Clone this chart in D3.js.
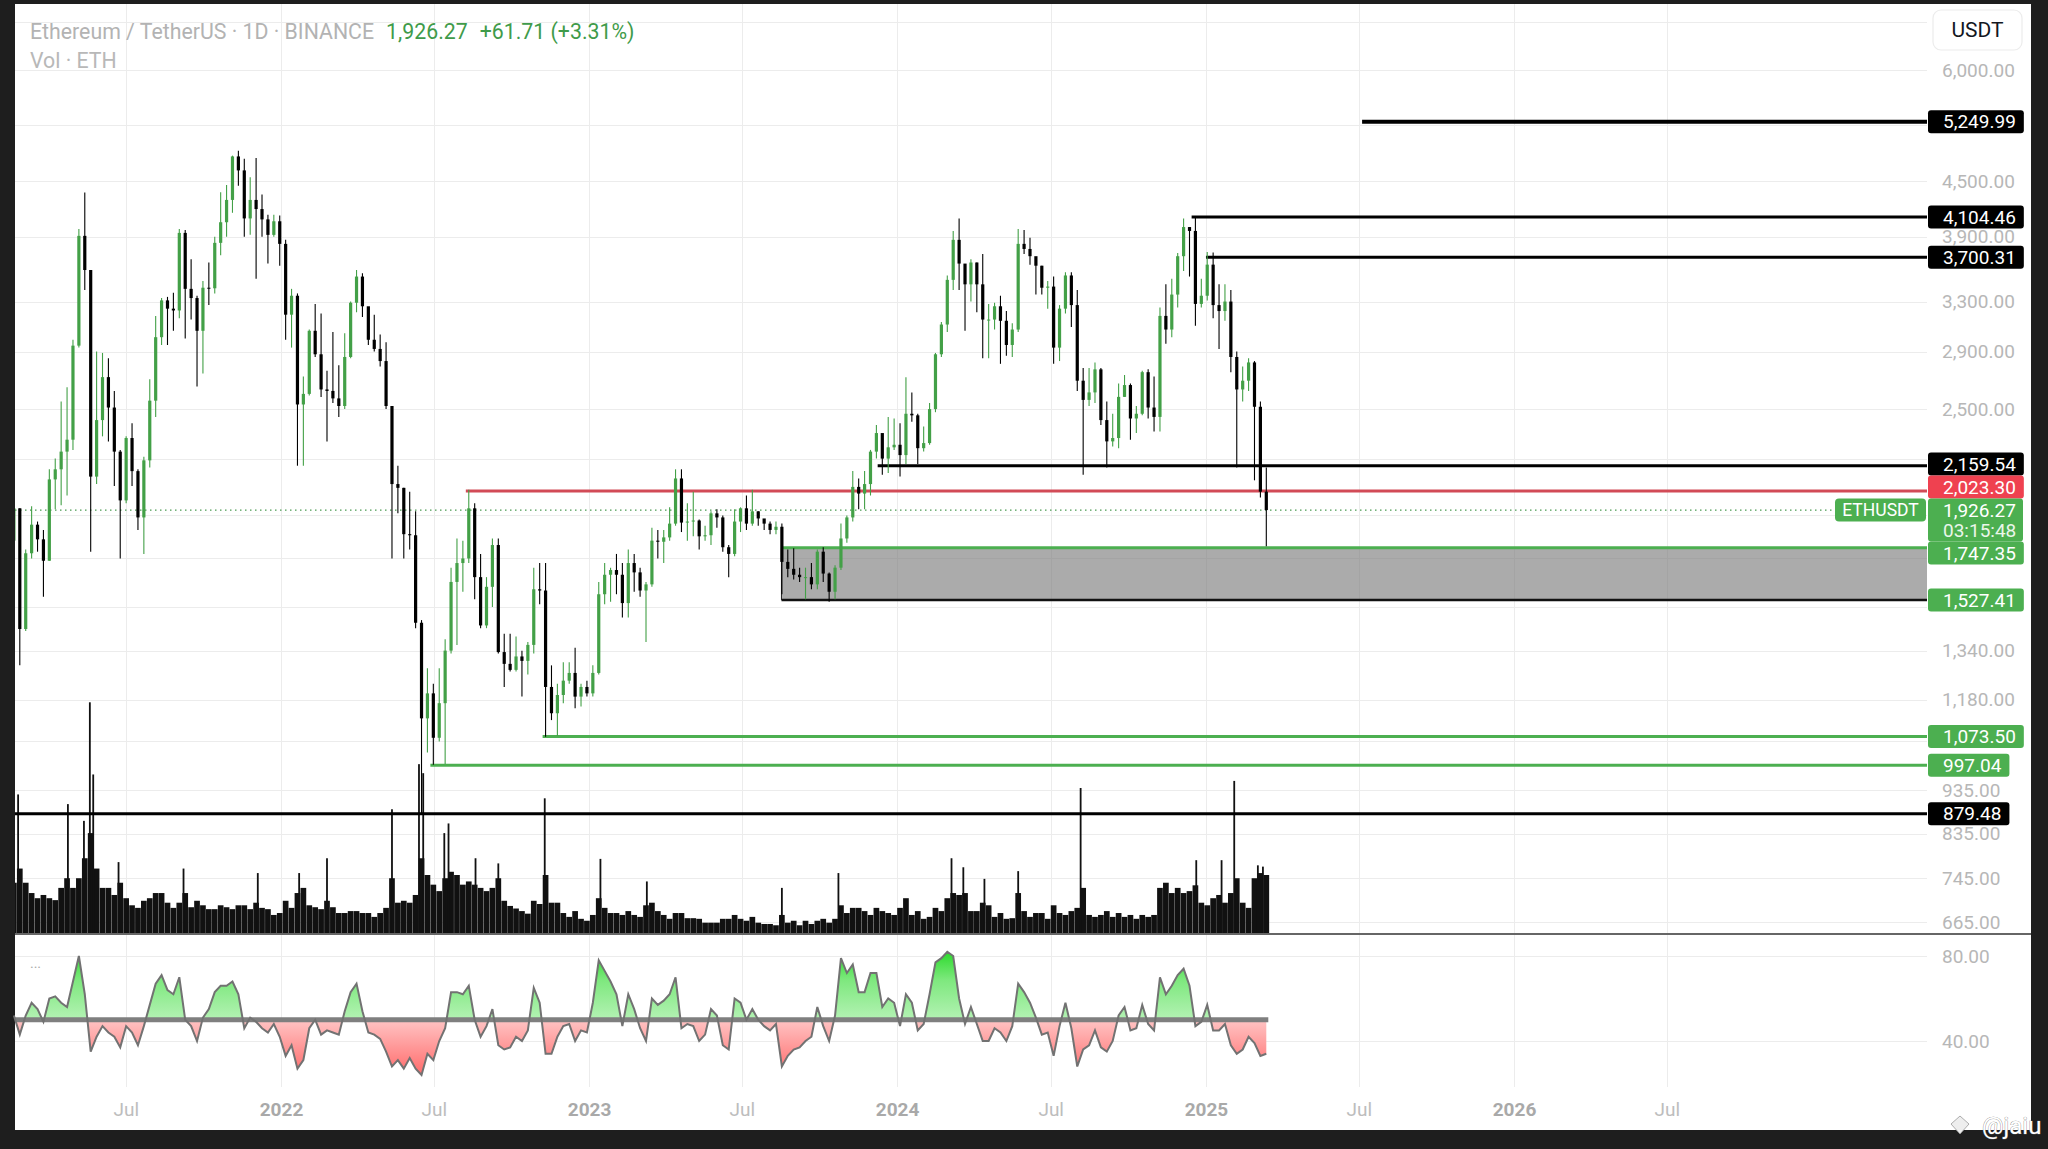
<!DOCTYPE html>
<html><head><meta charset="utf-8">
<script src="https://cdn.jsdelivr.net/npm/d3@7"></script>
<style>
html,body{margin:0;padding:0;background:#1e1e1e;}
svg{display:block;}
text{font-family:Roboto,"Liberation Sans",Arial,sans-serif;}
</style></head><body>
<svg id="c" width="2048" height="1149"></svg>
<script>
// ---------------- DATA (weekly) ----------------
const firstWeek = "2021-02-15";
const lastDay = "2025-03-11";
const firstOpen = 1780;

const close2021 = [1935,1417,1723,1855,1786,1690,2085,2140,2240,2310,2945,3910,3580,2100,2430,2715,2510,2240,1975,2320,2130,1890,2190,2555,3010,3310,3240,3225,3940,3410,3330,3060,3420,3415,3840,4050,4290,4800,4630,4090,4290,4190,4080,3920,4060,3830];
const high2021  = [2040,1935,1740,1945,1870,1830,2140,2200,2550,2645,2990,3980,4372,3580,2900,2890,2850,2620,2250,2330,2410,2140,2210,2700,3180,3330,3340,3375,3980,3970,3680,3350,3480,3650,3900,4375,4460,4810,4870,4770,4550,4780,4350,4130,4130,4120];
const low2021   = [1640,1290,1410,1700,1730,1540,1690,1930,1950,2000,2250,2930,3400,1730,2060,2330,2300,2050,1700,1960,2050,1830,1720,2150,2450,2950,2950,3060,3160,3000,3150,2650,2740,3270,3370,3720,3900,4150,4450,3900,3920,3500,3900,3640,3900,3620];

const close2022 = [3190,3350,2530,2600,3060,2880,2630,2620,2570,2520,2860,3290,3520,3260,2990,2920,2830,2520,2060,2040,1810,1805,1440,1125,1200,1070,1170,1340,1600,1680,1700,1935,1620,1430,1580,1760,1335,1295,1275,1320,1305,1360,1570,1565,1220,1140,1195,1240,1265,1190,1220,1200];
const high2022  = [3870,3410,3370,2720,3070,3280,3200,2760,3050,2800,3040,3300,3580,3550,3240,3190,3030,2970,2520,2160,2040,2020,1920,1450,1280,1230,1280,1380,1660,1790,1780,2030,1960,1720,1620,1790,1790,1400,1400,1390,1340,1370,1660,1680,1680,1290,1230,1300,1300,1350,1230,1240];
const low2022   = [2990,2930,2160,2160,2590,2860,2580,2300,2540,2450,2500,2850,3210,3170,2950,2900,2790,2500,1700,1910,1700,1740,1420,880,1030,998,1060,1000,1330,1360,1560,1680,1530,1420,1420,1500,1330,1220,1270,1270,1190,1260,1330,1510,1073,1120,1075,1170,1230,1155,1160,1190];

const close2023 = [1265,1550,1630,1650,1630,1515,1680,1640,1565,1590,1780,1775,1795,1860,2090,1865,1870,1875,1800,1805,1910,1890,1750,1720,1870,1935,1860,1920,1885,1860,1830,1845,1685,1655,1630,1620,1620,1590,1730,1635,1560,1660,1790,1890,2045,2010,2060,2240,2350,2200,2265,2280];
const high2023  = [1290,1600,1680,1660,1720,1680,1740,1720,1660,1600,1840,1830,1830,1940,2140,2140,1960,2020,1880,1850,1920,1930,1900,1760,1930,1940,2000,2030,1920,1880,1870,1870,1860,1740,1745,1660,1660,1680,1740,1750,1640,1670,1860,1900,2130,2090,2130,2250,2400,2320,2450,2440];
const low2023   = [1190,1260,1510,1520,1550,1460,1460,1560,1540,1370,1580,1700,1680,1780,1850,1820,1780,1800,1740,1780,1760,1840,1730,1620,1710,1820,1830,1850,1850,1830,1810,1810,1550,1620,1610,1600,1530,1570,1570,1600,1520,1530,1650,1770,1870,1930,1930,2000,2200,2110,2120,2250];

const close2024 = [2220,2470,2460,2260,2290,2500,2880,3110,3490,3870,3640,3450,3650,3450,3150,3150,3260,3140,2950,3070,3830,3780,3710,3620,3420,3430,2930,3240,3530,3270,2690,2560,2610,2770,2430,2300,2320,2580,2660,2440,2470,2750,2510,2450,3180,3070,3360,3710,4000,3960,3280,3350,3630];
const high2024  = [2410,2715,2610,2470,2390,2540,2890,3130,3530,3960,4090,3610,3680,3650,3730,3280,3290,3350,3220,3120,3980,3970,3890,3700,3620,3480,3520,3270,3560,3560,3400,2780,2780,2820,2780,2550,2470,2670,2730,2670,2520,2760,2770,2720,3250,3450,3500,3740,4090,4000,4107,3500,3750];
const low2024   = [2100,2170,2420,2170,2240,2280,2480,2860,3050,3400,3400,3060,3300,3210,2850,2850,3070,2810,2870,2860,3050,3730,3630,3360,3360,3240,2810,2830,3200,3090,2620,2110,2520,2540,2400,2150,2270,2260,2580,2310,2350,2460,2440,2360,2360,2960,3010,3250,3570,3520,3100,3250,3310];

const close2025 = [3270,3220,3300,2860,2630,2690,2820,2515,2020,1926.27];
const high2025  = [3745,3450,3450,3400,2900,2790,2850,2830,2550,2150];
const low2025   = [3160,2920,3140,2750,2150,2550,2620,2080,1990,1754];

// Volume (thousand ETH, typical daily level per week)
const vol2021 = [780,1000,780,620,540,590,540,510,700,850,700,850,1160,1550,1000,700,700,590,780,540,430,390,500,540,620,620,470,390,470,620,400,500,430,370,370,430,400,370,430,430,370,470,390,370,280,310];
const vol2022 = [500,390,620,700,430,400,370,500,400,310,310,340,340,310,310,250,310,390,850,470,500,470,590,1160,900,750,650,850,950,900,750,800,750,700,650,700,850,500,420,380,340,300,500,450,900,470,470,310,250,340,220,190];
const vol2023 = [280,540,390,310,310,280,340,280,250,430,470,340,280,220,310,310,230,230,220,160,160,160,220,220,280,220,190,250,160,140,140,120,280,160,190,120,190,140,190,220,160,220,430,310,390,390,340,280,390,340,310,280];
const vol2024 = [390,540,280,340,220,250,390,340,540,620,590,620,340,340,470,430,250,310,220,230,620,340,250,310,310,220,430,310,280,340,390,700,280,250,280,340,250,310,250,280,220,280,250,280,700,780,620,700,620,650,740,470,430];
const vol2025 = [540,590,470,620,850,470,390,850,930,900];
// Single-day volume spikes (thousand ETH)
const spikeDates = ["2021-02-23","2021-04-23","2021-05-12","2021-05-19","2021-05-23","2021-06-22","2021-09-07","2021-12-04","2022-01-22","2022-02-24","2022-05-12","2022-06-13","2022-06-18","2022-07-13","2022-07-18","2022-08-19","2022-09-15","2022-11-09","2023-01-14","2023-03-10","2023-08-17","2023-10-23","2024-03-05","2024-03-19","2024-04-13","2024-05-23","2024-08-05","2024-12-20","2025-01-19","2025-02-03","2025-03-03","2025-03-09"];
const spikeVols  = [2150,2000,1740,3580,2460,1100,1000,930,930,1160,1920,2620,2480,1550,1700,1160,1080,2090,1150,800,700,930,1160,1020,840,960,2250,1130,1130,2360,1050,1030];

// Oscillator (RSI-like) weekly values
const rsi2021 = [52,43,52,58,55,49,60,61,58,56,68,80,62,35,42,47,44,42,37,47,44,38,47,57,67,71,64,62,70,50,47,40,51,55,63,66,66,68,62,46,51,49,46,44,48,42];
const rsi2022 = [33,38,27,31,46,50,43,45,44,43,54,63,67,54,44,43,41,35,28,31,27,32,27,24,34,31,40,46,63,63,62,66,50,42,47,55,38,36,37,42,40,45,65,58,34,34,42,47,48,40,45,44];
const rsi2023 = [58,78,73,68,62,47,62,55,46,40,60,57,59,62,70,46,48,47,40,43,55,52,38,36,60,58,50,55,50,47,45,48,28,33,36,37,40,42,56,47,40,52,79,72,76,63,63,72,72,56,60,58];
const rsi2024 = [47,62,58,45,48,62,77,79,82,80,60,48,56,48,40,40,46,44,40,47,67,63,58,51,43,44,33,47,58,46,28,36,38,45,37,35,40,52,56,45,46,57,48,45,70,62,66,71,74,66,47,49,57];
const rsi2025 = [45,45,48,38,34,36,42,39,33,34];
const rsiMid = 50;

// Horizontal levels drawn on the chart
const levelPrices = [5249.99, 4104.46, 3700.31, 2159.54, 2023.30, 1073.50, 997.04, 879.48];
const levelStarts = ["2025-07-05","2024-12-15","2025-01-01","2023-12-09","2022-08-08","2022-11-07","2022-06-27","2020-12-01"];
const levelKinds  = ["black","black","black","black","red","green","green","black"];
const zoneTop = 1747.35, zoneBottom = 1527.41, zoneStart = "2023-08-17";
const lastPrice = 1926.27, countdown = "03:15:48", symbol = "ETHUSDT";

// Axis ticks
const priceTicks = [6800,6000,5200,4500,3900,3300,2900,2500,2200,1900,1700,1500,1340,1180,1060,935,835,745,665];
const rsiTicks = [80,40];
const timeTicks = ["2021-07-01","2022-01-01","2022-07-01","2023-01-01","2023-07-01","2024-01-01","2024-07-01","2025-01-01","2025-07-01","2026-01-01","2026-07-01"];

// ---------------- RENDER ----------------
const P = d3.utcParse("%Y-%m-%d");
const W = 2048, H = 1149;
const xL = 15, xR = 1927, yT = 4, yB = 933, rT = 935, rB = 1087, wR = 2031, wB = 1130;
const GREEN = "#4caf50", UP = "#43a047", RED_LINE = "#d24b57", RED_BOX = "#ef4150";

const svg = d3.select("#c");
svg.append("rect").attr("width", W).attr("height", H).attr("fill", "#1e1e1e");
svg.append("rect").attr("x", xL).attr("y", yT).attr("width", wR - xL).attr("height", wB - yT).attr("fill", "#fff");

const x = d3.scaleUtc().domain([P("2022-01-01"), P("2026-01-01")]).range([281, 1514]);
const y = d3.scaleLog().domain([665, 6000]).range([922, 70]);
const yV = d3.scaleLinear().domain([0, 3600]).range([yB, 701]);
const yR = d3.scaleLinear().domain([40, 80]).range([1041, 956]);

const defs = svg.append("defs");
defs.append("clipPath").attr("id", "mainClip").append("rect").attr("x", xL).attr("y", yT).attr("width", xR - xL).attr("height", yB - yT);
defs.append("clipPath").attr("id", "rsiUp").append("rect").attr("x", xL).attr("y", rT).attr("width", xR - xL).attr("height", yR(rsiMid) - rT);
defs.append("clipPath").attr("id", "rsiDn").append("rect").attr("x", xL).attr("y", yR(rsiMid)).attr("width", xR - xL).attr("height", rB - yR(rsiMid));
const gUp = defs.append("linearGradient").attr("id", "gUp").attr("gradientUnits", "userSpaceOnUse").attr("x1", 0).attr("x2", 0).attr("y1", yR(50)).attr("y2", yR(84));
gUp.append("stop").attr("offset", 0).attr("stop-color", "#b4f2b4");
gUp.append("stop").attr("offset", 0.55).attr("stop-color", "#7ee87e");
gUp.append("stop").attr("offset", 1).attr("stop-color", "#1fd81f");
const gDn = defs.append("linearGradient").attr("id", "gDn").attr("gradientUnits", "userSpaceOnUse").attr("x1", 0).attr("x2", 0).attr("y1", yR(50)).attr("y2", yR(22));
gDn.append("stop").attr("offset", 0).attr("stop-color", "#ffc4c4");
gDn.append("stop").attr("offset", 1).attr("stop-color", "#ff6464");

// data assembly
const weeks = d3.utcMonday.range(P(firstWeek), P(lastDay));
const closes = [...close2021, ...close2022, ...close2023, ...close2024, ...close2025];
const highs = [...high2021, ...high2022, ...high2023, ...high2024, ...high2025];
const lows = [...low2021, ...low2022, ...low2023, ...low2024, ...low2025];
const vols = [...vol2021, ...vol2022, ...vol2023, ...vol2024, ...vol2025];
const rsis = [...rsi2021, ...rsi2022, ...rsi2023, ...rsi2024, ...rsi2025];
const n = Math.min(weeks.length, closes.length);
const bars = d3.range(n).map(i => ({
  t: d3.utcHour.offset(weeks[i], 84),
  o: i ? closes[i - 1] : firstOpen, c: closes[i], h: highs[i], l: lows[i], v: vols[i], r: rsis[i]
}));

// label positions on the price scale (boxes) -- computed first so covered tick labels can be skipped
const BH = 23;
const cpTop = y(lastPrice) - 11.5, cpBot = cpTop + 43;
const entries = levelPrices.map((p, i) => ({ p, yc: y(p), bg: levelKinds[i] === "black" ? "#000" : levelKinds[i] === "red" ? RED_BOX : GREEN }));
entries.push({ p: zoneTop, yc: y(zoneTop), bg: GREEN });
entries.push({ p: zoneBottom, yc: y(zoneBottom), bg: GREEN });
entries.sort((a, b) => a.yc - b.yc);
let limit = cpTop;
entries.filter(e => e.yc < y(lastPrice)).reverse().forEach(e => { if (e.yc + BH / 2 > limit) e.yc = limit - BH / 2; limit = e.yc - BH / 2; });
limit = cpBot;
entries.filter(e => e.yc > y(lastPrice)).forEach(e => { if (e.yc - BH / 2 < limit) e.yc = limit + BH / 2; limit = e.yc + BH / 2; });
const covered = v => {
  const yy = y(v);
  if (yy > 8 && yy < 52) return true;            // behind currency button
  if (yy > cpTop - 6 && yy < cpBot + 6) return true; // behind current price box
  return entries.some(e => Math.abs(e.yc - yy) < 14);
};

// grid
const grid = svg.append("g").attr("stroke", "#ececec").attr("stroke-width", 1);
grid.selectAll("line.h").data(priceTicks).join("line")
  .attr("x1", xL).attr("x2", xR).attr("y1", d => Math.round(y(d)) + 0.5).attr("y2", d => Math.round(y(d)) + 0.5)
  .attr("clip-path", "url(#mainClip)");
grid.selectAll("line.r").data(rsiTicks).join("line")
  .attr("x1", xL).attr("x2", xR).attr("y1", d => Math.round(yR(d)) + 0.5).attr("y2", d => Math.round(yR(d)) + 0.5);
grid.selectAll("line.v").data(timeTicks).join("line")
  .attr("x1", d => Math.round(x(P(d))) + 0.5).attr("x2", d => Math.round(x(P(d))) + 0.5).attr("y1", yT).attr("y2", yB);
grid.selectAll("line.v2").data(timeTicks).join("line")
  .attr("x1", d => Math.round(x(P(d))) + 0.5).attr("x2", d => Math.round(x(P(d))) + 0.5).attr("y1", rT).attr("y2", rB);

// axes
const ya = svg.append("g").attr("transform", `translate(${xR},0)`)
  .call(d3.axisRight(y).tickValues(priceTicks.filter(v => !covered(v))).tickSize(0).tickPadding(15).tickFormat(d3.format(",.2f")));
ya.select(".domain").remove();
ya.selectAll("text").attr("font-size", 19).attr("fill", "#b7b7b7").attr("font-family", "Roboto");
const ra = svg.append("g").attr("transform", `translate(${xR},0)`)
  .call(d3.axisRight(yR).tickValues(rsiTicks).tickSize(0).tickPadding(15).tickFormat(d3.format(".2f")));
ra.select(".domain").remove();
ra.selectAll("text").attr("font-size", 19).attr("fill", "#b7b7b7").attr("font-family", "Roboto");
const xa = svg.append("g").attr("transform", `translate(0,${rB})`)
  .call(d3.axisBottom(x).tickValues(timeTicks.map(P)).tickSize(0).tickPadding(16)
    .tickFormat(d => d.getUTCMonth() === 0 ? String(d.getUTCFullYear()) : "Jul"));
xa.select(".domain").remove();
xa.selectAll("text").attr("font-size", 19).attr("font-family", "Roboto")
  .attr("font-weight", d => d.getUTCMonth() === 0 ? 700 : 400)
  .attr("fill", d => d.getUTCMonth() === 0 ? "#a9a9a9" : "#bdbdbd");

// main pane content
const main = svg.append("g").attr("clip-path", "url(#mainClip)");
// volume
main.append("g").selectAll("rect").data(bars).join("rect")
  .attr("x", d => x(d.t) - 2.85).attr("width", 5.7)
  .attr("y", d => yV(d.v)).attr("height", d => yB - yV(d.v)).attr("fill", "#111");
main.append("g").selectAll("rect").data(spikeDates).join("rect")
  .attr("x", d => x(d3.utcHour.offset(P(d), 12)) - 0.9).attr("width", 1.8)
  .attr("y", (d, i) => yV(spikeVols[i])).attr("height", (d, i) => yB - yV(spikeVols[i])).attr("fill", "#111");

// zone box
const zx0 = x(P(zoneStart));
main.append("rect").attr("x", zx0).attr("y", y(zoneTop)).attr("width", xR - zx0).attr("height", y(zoneBottom) - y(zoneTop))
  .attr("fill", "#787878").attr("fill-opacity", 0.62);
main.append("line").attr("x1", zx0).attr("x2", zx0).attr("y1", y(zoneTop)).attr("y2", y(zoneBottom)).attr("stroke", "#222").attr("stroke-width", 1);
main.append("line").attr("x1", zx0).attr("x2", xR).attr("y1", y(zoneBottom)).attr("y2", y(zoneBottom)).attr("stroke", "#111").attr("stroke-width", 2.5);
main.append("line").attr("x1", zx0).attr("x2", xR).attr("y1", y(zoneTop)).attr("y2", y(zoneTop)).attr("stroke", GREEN).attr("stroke-width", 3);

// levels
const kindColor = { black: "#000", red: RED_LINE, green: GREEN };
main.append("g").selectAll("line").data(levelPrices).join("line")
  .attr("x1", (d, i) => x(P(levelStarts[i]))).attr("x2", xR)
  .attr("y1", d => y(d)).attr("y2", d => y(d))
  .attr("stroke", (d, i) => kindColor[levelKinds[i]])
  .attr("stroke-width", (d, i) => i === 0 ? 4 : 3);

// last price dotted line
main.append("line").attr("x1", xL).attr("x2", 1834).attr("y1", y(lastPrice)).attr("y2", y(lastPrice))
  .attr("stroke", "#4a9a52").attr("stroke-width", 1.2).attr("stroke-dasharray", "1.5,3.5");

// candles
const cg = main.append("g");
cg.selectAll("line").data(bars).join("line")
  .attr("x1", d => x(d.t)).attr("x2", d => x(d.t))
  .attr("y1", d => y(d.h)).attr("y2", d => y(d.l))
  .attr("stroke", d => d.c >= d.o ? UP : "#000").attr("stroke-width", 1.1);
cg.selectAll("rect").data(bars).join("rect")
  .attr("x", d => x(d.t) - 1.6).attr("width", 3.2)
  .attr("y", d => y(Math.max(d.o, d.c))).attr("height", d => Math.max(1, Math.abs(y(d.o) - y(d.c))))
  .attr("fill", d => d.c >= d.o ? UP : "#000");

// oscillator pane
const rsiG = svg.append("g");
const area = d3.area().x(d => x(d.t)).y0(yR(rsiMid)).y1(d => yR(d.r)).curve(d3.curveLinear);
rsiG.append("path").datum(bars).attr("d", area).attr("fill", "url(#gUp)").attr("clip-path", "url(#rsiUp)");
rsiG.append("path").datum(bars).attr("d", area).attr("fill", "url(#gDn)").attr("clip-path", "url(#rsiDn)");
rsiG.append("line").attr("x1", xL).attr("x2", x(bars[n - 1].t) + 2).attr("y1", yR(rsiMid)).attr("y2", yR(rsiMid))
  .attr("stroke", "#7f7f7f").attr("stroke-width", 5);
rsiG.append("path").datum(bars).attr("d", d3.line().x(d => x(d.t)).y(d => yR(d.r)))
  .attr("fill", "none").attr("stroke", "#727272").attr("stroke-width", 2);
svg.append("text").attr("x", 30).attr("y", 973).attr("font-size", 14).attr("fill", "#aaa").text("···");

// pane separator
svg.append("line").attr("x1", xL).attr("x2", wR).attr("y1", 934).attr("y2", 934).attr("stroke", "#333").attr("stroke-width", 1.6);

// price labels on the right
const lab = svg.append("g").attr("font-size", 19).attr("font-family", "Roboto");
function box(yc, txt, bg, h) {
  const g = lab.append("g");
  const t = g.append("text").attr("x", 1943).attr("y", yc).attr("dy", "0.35em").attr("fill", "#fff").text(txt);
  const w = t.node().getComputedTextLength();
  g.insert("rect", "text").attr("x", 1928).attr("y", yc - h / 2).attr("width", w + 23).attr("height", h).attr("rx", 3).attr("fill", bg);
}
entries.forEach(e => box(e.yc, d3.format(",.2f")(e.p), e.bg, BH));
// current price box
const cpg = lab.append("g");
cpg.append("rect").attr("x", 1928).attr("y", cpTop).attr("width", 95).attr("height", 43).attr("rx", 3).attr("fill", GREEN);
cpg.append("text").attr("x", 1943).attr("y", y(lastPrice)).attr("dy", "0.35em").attr("fill", "#fff").text(d3.format(",.2f")(lastPrice));
cpg.append("text").attr("x", 1943).attr("y", y(lastPrice) + 20).attr("dy", "0.35em").attr("fill", "#eaf6ea").text(countdown);
// symbol tag
const sg = lab.append("g");
sg.append("rect").attr("x", 1835).attr("y", cpTop).attr("width", 91).attr("height", 23).attr("rx", 4).attr("fill", GREEN);
sg.append("text").attr("x", 1880.5).attr("y", y(lastPrice)).attr("dy", "0.35em").attr("text-anchor", "middle").attr("font-size", 17.5).attr("fill", "#fff").text(symbol);

// currency button
svg.append("rect").attr("x", 1933).attr("y", 10).attr("width", 89).attr("height", 40).attr("rx", 8)
  .attr("fill", "#fff").attr("stroke", "#ececec").attr("stroke-width", 1.2);
svg.append("text").attr("x", 1977.5).attr("y", 30).attr("dy", "0.35em").attr("text-anchor", "middle")
  .attr("font-size", 21).attr("fill", "#131722").text("USDT");

// legend texts
const t1 = svg.append("text").attr("x", 30).attr("y", 39).attr("font-size", 21.3).attr("fill", "#b3b3b3");
t1.append("tspan").text("Ethereum / TetherUS · 1D · BINANCE");
t1.append("tspan").attr("dx", 12).attr("fill", "#3f9b4a").text("1,926.27");
t1.append("tspan").attr("dx", 12).attr("fill", "#3f9b4a").text("+61.71 (+3.31%)");
svg.append("text").attr("x", 30).attr("y", 68).attr("font-size", 21.3).attr("fill", "#b8b8b8").text("Vol · ETH");

// watermark
svg.append("text").attr("x", 1982).attr("y", 1134).attr("font-size", 24).attr("fill", "#fff")
  .attr("stroke", "#7a7a7a").attr("stroke-width", 0.7).attr("paint-order", "stroke").text("@jaiu");
svg.append("path").attr("d", "M1951,1124 L1960,1116 L1969,1124 L1960,1134 Z").attr("fill", "#eee").attr("stroke", "#999").attr("stroke-width", 0.8);
</script>
</body></html>
